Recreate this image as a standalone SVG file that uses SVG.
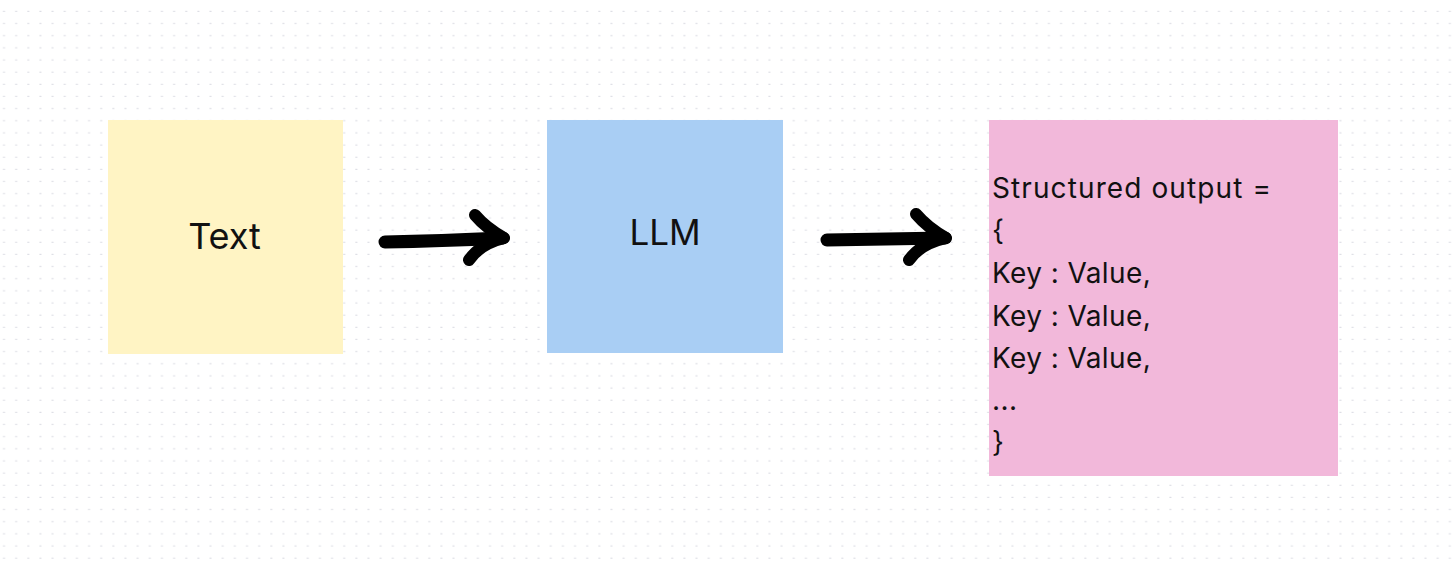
<svg xmlns="http://www.w3.org/2000/svg" width="1456" height="568" viewBox="0 0 1456 568">
  <defs>
    <pattern id="dots" x="-2" y="-0.15" width="12.15" height="12.15" patternUnits="userSpaceOnUse">
      <rect x="5" y="11" width="2" height="2" fill="#dcdde4"/>
    </pattern>
    <style>
      .lbl { font-family: Inter, "Noto Sans", "Liberation Sans", sans-serif; fill: #111; }
      .arrow { fill: none; stroke: #000; stroke-linecap: round; stroke-linejoin: round; }
    </style>
  </defs>
  <rect width="1456" height="568" fill="#ffffff"/>
  <rect width="1456" height="568" fill="url(#dots)"/>

  <g id="node-text">
    <rect x="108" y="120" width="235" height="234" fill="#fff4c4"/>
    <text class="lbl" x="224.5" y="249" font-size="36" text-anchor="middle">Text</text>
  </g>

  <g id="node-llm">
    <rect x="547" y="120" width="236" height="233" fill="#a9cef4"/>
    <text class="lbl" x="665" y="245" font-size="35" text-anchor="middle">LLM</text>
  </g>

  <g id="node-output">
    <rect x="989" y="120" width="349" height="356" fill="#f2b8da"/>
    <g class="lbl" font-size="28" letter-spacing="0.4">
      <text x="992" y="198" letter-spacing="1.1">Structured output =</text>
      <text x="992" y="240">{</text>
      <text x="992" y="283">Key : Value,</text>
      <text x="992" y="326">Key : Value,</text>
      <text x="992" y="368">Key : Value,</text>
      <text x="992" y="410">...</text>
      <text x="992" y="452">}</text>
    </g>
  </g>

  <g id="connectors">
    <path class="arrow" stroke-width="13" d="M385 242 Q440 241 503 238"/>
    <path class="arrow" stroke-width="12" d="M475 215 Q486 228 504 238 Q480 244 469 260"/>
    <path class="arrow" stroke-width="13" d="M827 240 Q885 239 945 238"/>
    <path class="arrow" stroke-width="12" d="M916 214 Q928 228 946 238 Q920 244 909 260"/>
  </g>
</svg>
